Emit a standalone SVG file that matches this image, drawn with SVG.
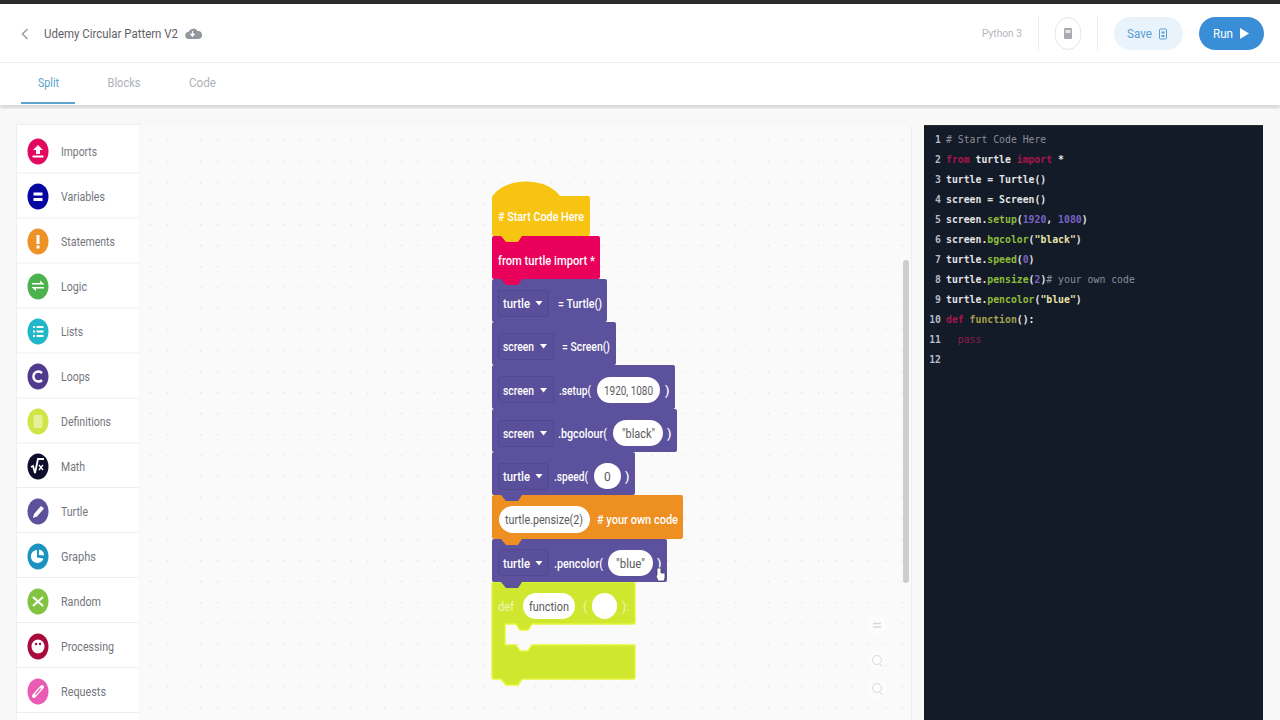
<svg xmlns="http://www.w3.org/2000/svg" width="1280" height="720" viewBox="0 0 1280 720">
<style>
text{font-family:Roboto,"Liberation Sans",sans-serif}
.cat{font-size:12.5px;fill:#74767d}
.row{fill:none;stroke:#eceef1;stroke-width:1}
.w{font-size:12.500px;fill:#fff;font-weight:500}
.v{font-size:12px;fill:#5a5a5e}
.pill{fill:#fff}
.dd{fill:#5a4f9a;stroke:#52488f;stroke-width:1}
.tri{fill:#fff}
.pu{fill:#5b519c}
.code text{font-family:"DejaVu Sans Mono","Liberation Mono",monospace;font-size:9.8px;fill:#e4e4e4;font-weight:600;white-space:pre}
.code text.ln{fill:#b9bcc2;text-anchor:end}
.k{fill:#a5174c}
.code text.k{fill:#8e1a48;font-weight:400}
.f{fill:#8fbc3a}
.n{fill:#7a63c4}
.s{fill:#e8e2a8}
.code text.c,.c{fill:#8b8e96;font-weight:400}
.ic{fill:#fff}
</style>
<defs>
<pattern id="dots" x="150" y="140" width="16.7" height="21" patternUnits="userSpaceOnUse">
<circle cx="0.8" cy="0.8" r="0.7" fill="#dedfe2"/>
</pattern>
<filter id="sh" x="-5%" y="-50%" width="110%" height="200%"><feGaussianBlur stdDeviation="2"/></filter>
</defs>

<rect width="1280" height="720" fill="#f8f8f9"/>
<rect id="canvas" x="140" y="126" width="771" height="594" fill="#fafafa"/>
<rect x="140" y="126" width="771" height="594" fill="url(#dots)"/>
<line x1="911.500" y1="126" x2="911.500" y2="720" stroke="#eeeeef"/>

<g id="header">
<rect x="0" y="104" width="1280" height="3" fill="#bbb" filter="url(#sh)"/>
<rect width="1280" height="105" fill="#fff"/>
<rect width="1280" height="4" fill="#2a2b2d"/>
<line x1="0" y1="62.500" x2="1280" y2="62.500" stroke="#f0f0f1"/>
<path d="M27.500 29 L22.500 34 L27.500 39" fill="none" stroke="#9a9da3" stroke-width="1.500"/>
<text x="44" y="38" font-size="12.500" fill="#5f6168" textLength="134" lengthAdjust="spacingAndGlyphs">Udemy Circular Pattern V2</text>
<path d="M189 39 a3.500 3.500 0 0 1 -0.500 -7 a5 5 0 0 1 9 -1 a4 4 0 0 1 1 8 z" fill="#94979e"/>
<path d="M192.500 31 v3 m-2 0 h4 l-2 2.500 z" fill="#fff" stroke="#fff" stroke-width="1"/>
<text x="982" y="37" font-size="11.500" fill="#b4b6ba" textLength="40" lengthAdjust="spacingAndGlyphs">Python 3</text>
<line x1="1038.500" y1="16" x2="1038.500" y2="50" stroke="#eee"/>
<line x1="1097.500" y1="16" x2="1097.500" y2="50" stroke="#eee"/>
<ellipse cx="1068" cy="33.500" rx="13" ry="16" fill="#fff" stroke="#e6e6e8"/>
<rect x="1064" y="28" width="8" height="11" rx="1" fill="#a9abb0"/>
<rect x="1065.500" y="30" width="5" height="3" fill="#e6e6e8"/>
<rect x="1114" y="17" width="69" height="33" rx="16.500" fill="#e8f3fb"/>
<text x="1127" y="38" font-size="13" fill="#5a9fd6" textLength="25" lengthAdjust="spacingAndGlyphs">Save</text>
<rect x="1159.500" y="29" width="7" height="10" rx="1" fill="none" stroke="#5a9fd6"/>
<path d="M1161.500 31.500h3v2h-3zM1161.500 35h3v2h-3z" fill="#5a9fd6"/>
<rect x="1199" y="17" width="65" height="33" rx="16.500" fill="#3a8ed8"/>
<text x="1213" y="38" font-size="13" fill="#fff" textLength="20" lengthAdjust="spacingAndGlyphs">Run</text>
<path d="M1240 28 L1249 33.500 L1240 39 Z" fill="#fff"/>
<text x="38" y="87" font-size="12.500" fill="#5ba3d0" textLength="21" lengthAdjust="spacingAndGlyphs">Split</text>
<rect x="21" y="102" width="54" height="2" fill="#5ba3d0"/>
<text x="107.500" y="87" font-size="12.500" fill="#aeb1b6" textLength="33" lengthAdjust="spacingAndGlyphs">Blocks</text>
<text x="189" y="87" font-size="12.500" fill="#aeb1b6" textLength="27" lengthAdjust="spacingAndGlyphs">Code</text>
</g>

<g id="sidebar">
<rect x="16.500" y="125" width="122" height="595" fill="#fff" stroke="none"/>
<line x1="16.500" y1="125" x2="16.500" y2="720" stroke="#eceef1"/>
<line x1="16.500" y1="124.500" x2="140" y2="124.500" stroke="#eceef1"/>
<path class="row" d="M17 173H139M17 218H139M17 263H139M17 308H139M17 353H139M17 398H139M17 443H139M17 487.500H139M17 532.500H139M17 577.500H139M17 622.500H139M17 667.500H139M17 712.500H139"/>
<g id="cat-imports"><ellipse cx="38" cy="151.500" rx="10.500" ry="13" fill="#e3075f"/><path class="ic" d="M38 145l5 5h-3v4h-4v-4h-3zM32.500 155.500h11v2h-11z"/><text class="cat" x="61" y="156" textLength="36" lengthAdjust="spacingAndGlyphs">Imports</text></g>
<g id="cat-variables"><ellipse cx="38" cy="196.500" rx="10.500" ry="13" fill="#0606a0"/><path class="ic" d="M33.500 192.500h9v3h-9zM33.500 198h9v3h-9z"/><text class="cat" x="61" y="201" textLength="44" lengthAdjust="spacingAndGlyphs">Variables</text></g>
<g id="cat-statements"><ellipse cx="38" cy="241.500" rx="10.500" ry="13" fill="#ee9126"/><path class="ic" d="M36.500 235h3v9h-3zM36.500 245.500h3v3h-3z"/><text class="cat" x="61" y="246" textLength="54" lengthAdjust="spacingAndGlyphs">Statements</text></g>
<g id="cat-logic"><ellipse cx="38" cy="286.500" rx="10.500" ry="13" fill="#4cb24e"/><path class="ic" d="M32 283h8v-2.500l4 3.500v.5h-12zM44 288.500h-8v2.500l-4-3.500v-.5h12z"/><text class="cat" x="61" y="291" textLength="26" lengthAdjust="spacingAndGlyphs">Logic</text></g>
<g id="cat-lists"><ellipse cx="38" cy="331.500" rx="10.500" ry="13" fill="#20b8c8"/><path class="ic" d="M33 326h2v2h-2zM36.500 326h7v2h-7zM33 330.500h2v2h-2zM36.500 330.500h7v2h-7zM33 335h2v2h-2zM36.500 335h7v2h-7z"/><text class="cat" x="61" y="336" textLength="22" lengthAdjust="spacingAndGlyphs">Lists</text></g>
<g id="cat-loops"><ellipse cx="38" cy="376.500" rx="10.500" ry="13" fill="#4f3a8e"/><path d="M42 373a5 5 0 1 0 0 7" fill="none" stroke="#fff" stroke-width="2.500"/><text class="cat" x="61" y="381" textLength="29" lengthAdjust="spacingAndGlyphs">Loops</text></g>
<g id="cat-definitions"><ellipse cx="38" cy="421.500" rx="10.500" ry="13" fill="#cfe445"/><rect x="33.500" y="415" width="9" height="13" rx="1" fill="#e6ef9a"/><text class="cat" x="61" y="426" textLength="50" lengthAdjust="spacingAndGlyphs">Definitions</text></g>
<g id="cat-math"><ellipse cx="38" cy="466.500" rx="10.500" ry="13" fill="#0e0e2c"/><path d="M31 467l2 -1 2 7 3 -14h6" fill="none" stroke="#fff" stroke-width="1.800"/><path d="M39 465l4 5m0-5l-4 5" stroke="#fff" stroke-width="1.300"/><text class="cat" x="61" y="471" textLength="24" lengthAdjust="spacingAndGlyphs">Math</text></g>
<g id="cat-turtle"><ellipse cx="38" cy="511.500" rx="10.500" ry="13" fill="#5b519c"/><path class="ic" d="M33 518l1 -4 7 -8 3 2.500 -7 8z"/><text class="cat" x="61" y="516" textLength="27" lengthAdjust="spacingAndGlyphs">Turtle</text></g>
<g id="cat-graphs"><ellipse cx="38" cy="556.500" rx="10.500" ry="13" fill="#1a93c0"/><path class="ic" d="M37 550a6.500 6.500 0 1 0 6.500 8.500l-6.500 -1z"/><path class="ic" d="M39 549.500a6 6 0 0 1 5 6l-5 -.5z"/><text class="cat" x="61" y="561" textLength="35" lengthAdjust="spacingAndGlyphs">Graphs</text></g>
<g id="cat-random"><ellipse cx="38" cy="601.500" rx="10.500" ry="13" fill="#82c341"/><path d="M33 597l10 9m0-9l-10 9" stroke="#fff" stroke-width="2.200"/><text class="cat" x="61" y="606" textLength="40" lengthAdjust="spacingAndGlyphs">Random</text></g>
<g id="cat-processing"><ellipse cx="38" cy="646.500" rx="10.500" ry="13" fill="#a80a3c"/><ellipse cx="38" cy="646.500" rx="6.500" ry="7" fill="#fff"/><circle cx="36" cy="644" r="1.200" fill="#a80a3c"/><circle cx="40" cy="644" r="1.200" fill="#a80a3c"/><text class="cat" x="61" y="651" textLength="53" lengthAdjust="spacingAndGlyphs">Processing</text></g>
<g id="cat-requests"><ellipse cx="38" cy="691.500" rx="10.500" ry="13" fill="#ea5cb4"/><path d="M34 696l8 -9" stroke="#fff" stroke-width="4" stroke-linecap="round"/><path d="M35.500 694.500l5 -6" stroke="#ea5cb4" stroke-width="1.300"/><text class="cat" x="61" y="696" textLength="45" lengthAdjust="spacingAndGlyphs">Requests</text></g>
</g>

<g id="scroll-zoom">
<rect x="903" y="260" width="6" height="323" rx="3" fill="#cdcdcf"/>
<circle cx="877" cy="625" r="10" fill="#fcfcfc"/><path d="M873 623.500h8M873 627h8" stroke="#d6d6d8" stroke-width="1.500"/>
<circle cx="877" cy="660" r="10" fill="#fcfcfc"/><circle cx="877" cy="660" r="4.500" fill="none" stroke="#dadadc"/><path d="M880 664l2.500 3" stroke="#dadadc"/>
<circle cx="877" cy="689" r="10" fill="#fcfcfc"/><circle cx="877" cy="688" r="4.500" fill="none" stroke="#dadadc"/><path d="M880 692l2.500 3" stroke="#dadadc"/>
</g>

<g id="blocks">
<g id="block-def">
<path d="M494 582H633a2 2 0 0 1 2 2V622a2 2 0 0 1 -2 2H532l-4 6H520l-4 -6H505V645H516l4 6h8l4 -6H633a2 2 0 0 1 2 2V677a2 2 0 0 1 -2 2H522l-4 6H506l-5 -6H494a2 2 0 0 1 -2 -2V584a2 2 0 0 1 2 -2Z" fill="#cfe82f" stroke="#e6f53c" stroke-width="1.500"/>
<text x="498" y="611" font-size="12.500" fill="#f0f5b8" textLength="16" lengthAdjust="spacingAndGlyphs">def</text>
<rect class="pill" x="523" y="593" width="52" height="26" rx="13"/>
<text class="v" x="529" y="611" textLength="40" lengthAdjust="spacingAndGlyphs">function</text>
<text x="583" y="611" font-size="12.500" fill="#f0f5b8">(</text>
<rect class="pill" x="592" y="593" width="25" height="26" rx="12.500"/>
<text x="622" y="611" font-size="12.500" fill="#f0f5b8">):</text>
</g>
<g id="block-pencolor">
<path class="pu" d="M494 539H665a2 2 0 0 1 2 2V580a2 2 0 0 1 -2 2H522l-4 6H506l-5 -6H494a2 2 0 0 1 -2 -2V541a2 2 0 0 1 2 -2Z"/>
<rect class="dd" x="498.500" y="549.500" width="50" height="26" rx="3"/>
<text class="w" x="503" y="568" textLength="27" lengthAdjust="spacingAndGlyphs">turtle</text><path class="tri" d="M535.500 561h7l-3.500 4.500z"/>
<text class="w" x="554" y="568" textLength="49" lengthAdjust="spacingAndGlyphs">.pencolor(</text>
<rect class="pill" x="608" y="550" width="45" height="26" rx="13"/>
<text class="v" x="616" y="568" textLength="29" lengthAdjust="spacingAndGlyphs">"blue"</text>
<text class="w" x="657" y="568">)</text>
</g>
<g id="block-pensize">
<path d="M494 495H681a2 2 0 0 1 2 2V537a2 2 0 0 1 -2 2H522l-4 6H506l-5 -6H494a2 2 0 0 1 -2 -2V497a2 2 0 0 1 2 -2Z" fill="#ee8f22"/>
<rect class="pill" x="499" y="506" width="91" height="27" rx="13.500"/>
<text class="v" x="505" y="524" textLength="78" lengthAdjust="spacingAndGlyphs">turtle.pensize(2)</text>
<text class="w" x="597" y="524" textLength="81" lengthAdjust="spacingAndGlyphs" fill="#ffeccf"># your own code</text>
</g>
<g id="block-speed">
<path class="pu" d="M494 452H633a2 2 0 0 1 2 2V493a2 2 0 0 1 -2 2H522l-4 6H506l-5 -6H494a2 2 0 0 1 -2 -2V454a2 2 0 0 1 2 -2Z"/>
<rect class="dd" x="498.500" y="463.500" width="50" height="26" rx="3"/>
<text class="w" x="503" y="481" textLength="27" lengthAdjust="spacingAndGlyphs">turtle</text><path class="tri" d="M535.500 474h7l-3.500 4.500z"/>
<text class="w" x="554" y="481" textLength="34" lengthAdjust="spacingAndGlyphs">.speed(</text>
<rect class="pill" x="594" y="463" width="27" height="26" rx="13"/>
<text class="v" x="604" y="481">0</text>
<text class="w" x="625" y="481">)</text>
</g>
<g id="block-bgcolour">
<path class="pu" d="M494 409H675a2 2 0 0 1 2 2V450a2 2 0 0 1 -2 2H522l-4 6H506l-5 -6H494a2 2 0 0 1 -2 -2V411a2 2 0 0 1 2 -2Z"/>
<rect class="dd" x="498.500" y="420.500" width="55" height="26" rx="3"/>
<text class="w" x="503" y="438" textLength="31" lengthAdjust="spacingAndGlyphs">screen</text><path class="tri" d="M540 431h7l-3.500 4.500z"/>
<text class="w" x="558" y="438" textLength="49" lengthAdjust="spacingAndGlyphs">.bgcolour(</text>
<rect class="pill" x="613" y="420" width="50" height="26" rx="13"/>
<text class="v" x="622" y="438" textLength="33" lengthAdjust="spacingAndGlyphs">"black"</text>
<text class="w" x="667" y="438">)</text>
</g>
<g id="block-setup">
<path class="pu" d="M494 365H673a2 2 0 0 1 2 2V407a2 2 0 0 1 -2 2H522l-4 6H506l-5 -6H494a2 2 0 0 1 -2 -2V367a2 2 0 0 1 2 -2Z"/>
<rect class="dd" x="498.500" y="376.500" width="55" height="26" rx="3"/>
<text class="w" x="503" y="395" textLength="31" lengthAdjust="spacingAndGlyphs">screen</text><path class="tri" d="M540 388h7l-3.500 4.500z"/>
<text class="w" x="559" y="395" textLength="32" lengthAdjust="spacingAndGlyphs">.setup(</text>
<rect class="pill" x="597" y="377" width="63" height="26" rx="13"/>
<text class="v" x="604" y="395" textLength="49" lengthAdjust="spacingAndGlyphs">1920, 1080</text>
<text class="w" x="665" y="395">)</text>
</g>
<g id="block-screen">
<path class="pu" d="M494 322H614a2 2 0 0 1 2 2V363a2 2 0 0 1 -2 2H522l-4 6H506l-5 -6H494a2 2 0 0 1 -2 -2V324a2 2 0 0 1 2 -2Z"/>
<rect class="dd" x="498.500" y="333.500" width="55" height="26" rx="3"/>
<text class="w" x="503" y="351" textLength="31" lengthAdjust="spacingAndGlyphs">screen</text><path class="tri" d="M540 344h7l-3.500 4.500z"/>
<text class="w" x="562" y="351" textLength="48" lengthAdjust="spacingAndGlyphs">= Screen()</text>
</g>
<g id="block-turtle">
<path class="pu" d="M494 279H605a2 2 0 0 1 2 2V320a2 2 0 0 1 -2 2H522l-4 6H506l-5 -6H494a2 2 0 0 1 -2 -2V281a2 2 0 0 1 2 -2Z"/>
<rect class="dd" x="498.500" y="290.500" width="50" height="26" rx="3"/>
<text class="w" x="503" y="308" textLength="27" lengthAdjust="spacingAndGlyphs">turtle</text><path class="tri" d="M535.500 301h7l-3.500 4.500z"/>
<text class="w" x="558" y="308" textLength="44" lengthAdjust="spacingAndGlyphs">= Turtle()</text>
</g>
<g id="block-import">
<path d="M494 236H598a2 2 0 0 1 2 2V277a2 2 0 0 1 -2 2H522l-4 6H506l-5 -6H494a2 2 0 0 1 -2 -2V238a2 2 0 0 1 2 -2Z" fill="#e8005a"/>
<text class="w" x="498" y="265" textLength="97" lengthAdjust="spacingAndGlyphs">from turtle import *</text>
</g>
<g id="block-start">
<path d="M492 197C504 177 546 176 560 196H588a2 2 0 0 1 2 2V234a2 2 0 0 1 -2 2H522l-4 6H506l-5 -6H494a2 2 0 0 1 -2 -2Z" fill="#f7c411"/>
<text class="w" x="498" y="221" textLength="86" lengthAdjust="spacingAndGlyphs">#&#160;Start Code Here</text>
</g>
<path id="cursor" d="M657 568v7l-1 1 2 5h6l1 -3v-5h-4v-5z" fill="#fff" stroke="#3d3a66" stroke-width="0.800"/>
</g>

<g id="code-panel">
<rect x="924" y="125" width="339" height="595" fill="#131a28"/>
<line x1="924" y1="125.500" x2="1263" y2="125.500" stroke="#2a2a2c"/>
<g class="code">
<text class="ln" x="941" y="143">1</text><text x="946" y="143" class="c"># Start Code Here</text>
<text class="ln" x="941" y="163">2</text><text x="946" y="163"><tspan class="k">from</tspan> turtle <tspan class="k">import</tspan> *</text>
<text class="ln" x="941" y="183">3</text><text x="946" y="183">turtle = Turtle()</text>
<text class="ln" x="941" y="203">4</text><text x="946" y="203">screen = Screen()</text>
<text class="ln" x="941" y="223">5</text><text x="946" y="223">screen.<tspan class="f">setup</tspan>(<tspan class="n">1920</tspan>, <tspan class="n">1080</tspan>)</text>
<text class="ln" x="941" y="243">6</text><text x="946" y="243">screen.<tspan class="f">bgcolor</tspan>(<tspan class="s">"black"</tspan>)</text>
<text class="ln" x="941" y="263">7</text><text x="946" y="263">turtle.<tspan class="f">speed</tspan>(<tspan class="n">0</tspan>)</text>
<text class="ln" x="941" y="283">8</text><text x="946" y="283">turtle.<tspan class="f">pensize</tspan>(<tspan class="n">2</tspan>)<tspan class="c"># your own code</tspan></text>
<text class="ln" x="941" y="303">9</text><text x="946" y="303">turtle.<tspan class="f">pencolor</tspan>(<tspan class="s">"blue"</tspan>)</text>
<text class="ln" x="941" y="323">10</text><text x="946" y="323"><tspan class="k">def</tspan> <tspan fill="#a6a04a">function</tspan>():</text>
<text class="ln" x="941" y="343">11</text><text x="957.800" y="343" class="k">pass</text>
<text class="ln" x="941" y="363">12</text>
</g>
</g>
</svg>
